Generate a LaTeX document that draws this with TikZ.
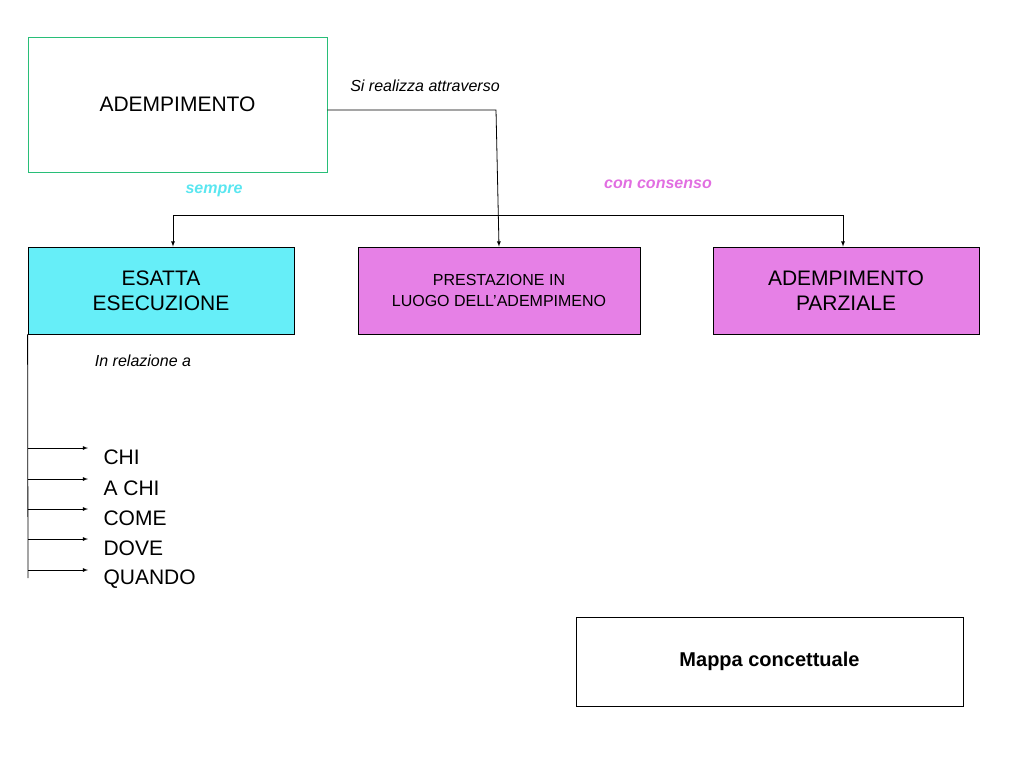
\documentclass[tikz,border=0pt]{standalone}
\usepackage{fontspec}
\setmainfont{Liberation Sans}
\usetikzlibrary{positioning}
\definecolor{boxgreen}{RGB}{40,190,120}
\definecolor{esatta}{RGB}{102,238,248}
\definecolor{viola}{RGB}{230,128,230}
\definecolor{sempre}{RGB}{90,230,240}
\definecolor{consenso}{RGB}{225,110,225}
\tikzset{
  concept/.style={draw, line width=0.8pt, inner sep=0pt, align=center},
  arr/.style={-latex, line width=0.8pt},
  lbl/.style={font=\fontsize{16}{18}\selectfont\itshape}
}
\begin{document}
\begin{tikzpicture}[x=1pt,y=-1pt]

  \useasboundingbox (0,0) rectangle (1024,768);

  \node[concept, draw=boxgreen, minimum width=299pt, minimum height=135pt,
        font=\fontsize{21}{25}\selectfont] (adem) at (177.5,104.5) {ADEMPIMENTO};

  \node[concept, fill=esatta, minimum width=266pt, minimum height=87pt,
        font=\fontsize{21}{25}\selectfont] (esatta) at (161,290.5) {ESATTA\\ESECUZIONE};
  \node[concept, fill=viola, minimum width=282pt, minimum height=87pt,
        font=\fontsize{16}{21}\selectfont] (prest) at (499,290.5) {PRESTAZIONE IN\\LUOGO DELL’ADEMPIMENO};
  \node[concept, fill=viola, minimum width=266pt, minimum height=87pt,
        font=\fontsize{21}{25}\selectfont] (parz) at (846,290.5) {ADEMPIMENTO\\PARZIALE};

  \node[concept, minimum width=387pt, minimum height=89pt,
        font=\fontsize{20}{24}\selectfont\bfseries] (mappa) at (769.5,661.5) {Mappa concettuale};

  \node[lbl] (attr) at (425,86) {Si realizza attraverso};
  \node[font=\fontsize{16}{18}\selectfont\bfseries\itshape, text=sempre] (sempre) at (214,191) {sempre};
  \node[font=\fontsize{16}{18}\selectfont\bfseries\itshape, text=consenso] (consenso) at (658,184) {con consenso};
  \node[lbl] (rel) at (143,361) {In relazione a};

  \coordinate (ang) at (496,110);
  \coordinate (sx) at (173,215);
  \coordinate (dx) at (843,215);
  \draw[arr] (ang -| adem.east) -- (ang) -- (prest.north);
  \draw[line width=0.8pt] (sx) -- (dx);
  \draw[arr] (sx) -- (sx |- esatta.north);
  \draw[arr] (dx) -- (dx |- parz.north);

  \coordinate (base) at (28,578);
  \draw[line width=0.8pt] (esatta.south west) -- (base);
  \foreach \y/\t [count=\i] in {457/CHI, 488/A CHI, 518/COME, 548/DOVE, 579/QUANDO} {
    \node[anchor=west, font=\fontsize{21}{25}\selectfont] (voce\i) at (100,\y) {\t};
    \coordinate (da\i) at (28,\y-9);
    \draw[arr] (da\i) -- ++(60,0);
  }

\end{tikzpicture}
\end{document}
